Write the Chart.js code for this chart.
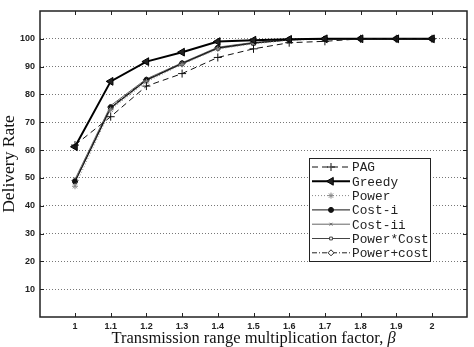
<!DOCTYPE html>
<html>
<head>
<meta charset="utf-8">
<script src="https://cdn.jsdelivr.net/npm/chart.js@4/dist/chart.umd.min.js"></script>
<style>
  html, body { margin: 0; padding: 0; background: #fff; }
  #wrap { width: 474px; height: 347px; }
</style>
</head>
<body>
<div id="wrap"><canvas id="c" width="474" height="347"></canvas></div>
<script>
// Delivery rate vs transmission range multiplication factor
var betas = [1, 1.1, 1.2, 1.3, 1.4, 1.5, 1.6, 1.7, 1.8, 1.9, 2];
var xTicks = [1, 1.1, 1.2, 1.3, 1.4, 1.5, 1.6, 1.7, 1.8, 1.9, 2];
var yTicks = [10, 20, 30, 40, 50, 60, 70, 80, 90, 100];

var pag       = [61.8, 72.0, 83.0, 87.5, 93.3, 96.4, 98.6, 99.1, 100, 100, 100];
var greedy    = [61.2, 84.7, 91.8, 95.2, 99.0, 99.5, 99.8, 100, 100, 100, 100];
var power     = [47.0, 74.5, 84.5, 90.8, 96.3, 98.2, 99.5, 99.9, 100, 100, 100];
var costI     = [48.7, 75.3, 85.2, 91.2, 96.7, 98.5, 99.6, 100, 100, 100, 100];
var costII    = [49.5, 76.0, 85.6, 91.4, 97.0, 98.7, 99.7, 100, 100, 100, 100];
var powerCost = [48.5, 75.0, 85.0, 91.0, 96.5, 98.4, 99.6, 100, 100, 100, 100];
var powerPlus = [49.0, 75.5, 85.3, 91.1, 96.8, 98.6, 99.7, 100, 100, 100, 100];

function pts(vals) {
  return vals.map(function(v, i) { return { x: betas[i], y: v }; });
}

function series(label, vals, color, width, dash, style, radius, rot, fill) {
  return {
    label: label,
    data: pts(vals),
    borderColor: color,
    borderWidth: width,
    borderDash: dash,
    pointStyle: style,
    pointRadius: radius,
    pointRotation: rot || 0,
    pointBorderColor: color,
    pointBackgroundColor: fill || color,
    pointBorderWidth: 1,
    fill: false,
    tension: 0
  };
}

// order: drawn last on top
var datasets = [
  series('PAG', pag, '#111', 1, [6, 4], 'cross', 4),
  series('Greedy', greedy, '#000', 2, [], 'triangle', 4.5, -90, '#222'),
  series('Power', power, '#888', 1, [1, 2], 'star', 3),
  series('Cost-i', costI, '#111', 1, [], 'circle', 2.5),
  series('Cost-ii', costII, '#666', 1, [], 'crossRot', 2),
  series('Power*Cost', powerCost, '#444', 1, [], 'rect', 2, 0, '#fff'),
  series('Power+cost', powerPlus, '#222', 1, [5, 2, 1, 2], 'rectRot', 3, 0, '#fff')
];

var frame = {
  id: 'frame',
  afterDraw: function(chart) {
    var ctx = chart.ctx;
    var a = chart.chartArea;
    var xs = chart.scales.x, ys = chart.scales.y;
    ctx.save();
    // box
    ctx.strokeStyle = '#222';
    ctx.lineWidth = 1.5;
    ctx.setLineDash([]);
    ctx.strokeRect(a.left, a.top, a.right - a.left, a.bottom - a.top);
    // inward tick marks on all four sides
    ctx.lineWidth = 1;
    xTicks.forEach(function(v) {
      var px = Math.round(xs.getPixelForValue(v)) + 0.5;
      ctx.beginPath();
      ctx.moveTo(px, a.top); ctx.lineTo(px, a.top + 4);
      ctx.moveTo(px, a.bottom); ctx.lineTo(px, a.bottom - 4);
      ctx.stroke();
    });
    yTicks.forEach(function(v) {
      var py = Math.round(ys.getPixelForValue(v)) + 0.5;
      ctx.beginPath();
      ctx.moveTo(a.left, py); ctx.lineTo(a.left + 4, py);
      ctx.moveTo(a.right, py); ctx.lineTo(a.right - 4, py);
      ctx.stroke();
    });

    // axis titles, centred on the plot area
    ctx.fillStyle = '#111';
    ctx.textBaseline = 'alphabetic';
    var t1 = 'Transmission range multiplication factor, ';
    ctx.font = '16.5px "Liberation Serif"';
    var w1 = ctx.measureText(t1).width;
    ctx.font = 'italic 16.5px "Liberation Serif"';
    var w2 = ctx.measureText('\u03b2').width;
    var sx = (a.left + a.right) / 2 - (w1 + w2) / 2;
    ctx.font = '16.5px "Liberation Serif"';
    ctx.textAlign = 'left';
    ctx.fillText(t1, sx, 343);
    ctx.font = 'italic 16.5px "Liberation Serif"';
    ctx.fillText('\u03b2', sx + w1, 343);

    ctx.save();
    ctx.translate(9, (a.top + a.bottom) / 2);
    ctx.rotate(-Math.PI / 2);
    ctx.font = '17.5px "Liberation Serif"';
    ctx.textAlign = 'center';
    ctx.textBaseline = 'middle';
    ctx.fillText('Delivery Rate', 0, 0);
    ctx.restore();

    // legend box
    var lx = 309, ly = 158, lw = 121, lh = 103;
    ctx.fillStyle = '#fff';
    ctx.fillRect(lx, ly, lw, lh);
    ctx.strokeStyle = '#222';
    ctx.lineWidth = 1;
    ctx.strokeRect(lx + 0.5, ly + 0.5, lw, lh);
    ctx.font = '12.8px "Liberation Mono"';
    ctx.textAlign = 'left';
    ctx.textBaseline = 'middle';
    chart.data.datasets.forEach(function(ds, i) {
      var cy = 167 + i * 14.3;
      ctx.strokeStyle = ds.borderColor;
      ctx.lineWidth = ds.borderWidth;
      ctx.setLineDash(ds.borderDash || []);
      ctx.beginPath();
      ctx.moveTo(312, cy); ctx.lineTo(350, cy);
      ctx.stroke();
      ctx.setLineDash([]);
      ctx.lineWidth = 1;
      ctx.fillStyle = ds.pointBackgroundColor;
      Chart.helpers.drawPoint(ctx, {
        pointStyle: ds.pointStyle,
        radius: ds.pointRadius,
        rotation: ds.pointRotation,
        borderWidth: 1
      }, 331, cy);
      ctx.fillStyle = '#222';
      ctx.fillText(ds.label, 352, cy + 1);
    });
    ctx.restore();
  }
};

new Chart(document.getElementById('c'), {
  type: 'line',
  data: { datasets: datasets },
  options: {
    responsive: false,
    animation: false,
    layout: { padding: { top: 11, right: 7, left: 0, bottom: 0 } },
    plugins: { legend: { display: false }, tooltip: { enabled: false } },
    scales: {
      x: {
        type: 'linear',
        min: 0.902,
        max: 2.098,
        afterBuildTicks: function(scale) {
          scale.ticks = xTicks.map(function(v) { return { value: v }; });
        },
        afterFit: function(scale) { scale.height = 30; },
        grid: { display: false, drawTicks: false },
        border: { display: false },
        ticks: {
          padding: 4,
          color: '#222',
          font: { family: 'Liberation Sans', size: 9, weight: 'bold' },
          maxRotation: 0,
          autoSkip: false,
          callback: function(v) { return String(Math.round(v * 10) / 10); }
        }
      },
      y: {
        min: 0,
        max: 110,
        afterBuildTicks: function(scale) {
          scale.ticks = yTicks.map(function(v) { return { value: v }; });
        },
        afterFit: function(scale) { scale.width = 40; },
        grid: { color: '#777', lineWidth: 1, drawTicks: false },
        border: { display: false, dash: [1, 2] },
        ticks: {
          padding: 5,
          color: '#222',
          font: { family: 'Liberation Sans', size: 9, weight: 'bold' },
          autoSkip: false
        }
      }
    }
  },
  plugins: [frame]
});
</script>
</body>
</html>
